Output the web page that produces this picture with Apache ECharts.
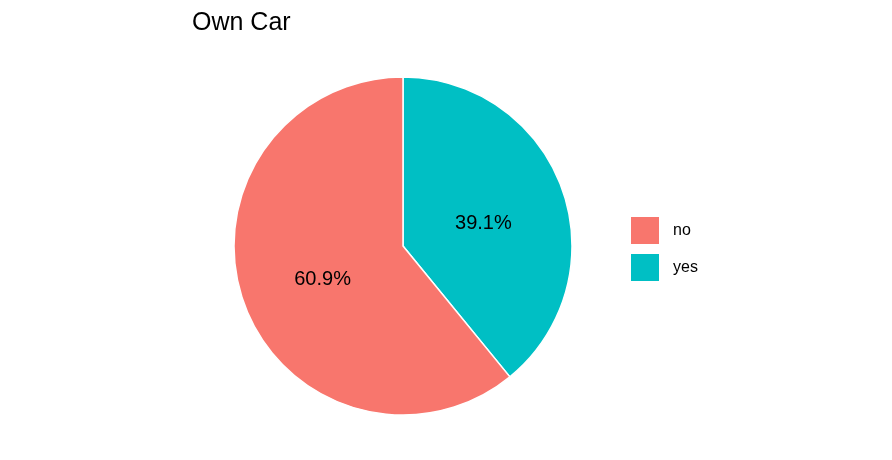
<!DOCTYPE html>
<html>
<head>
<meta charset="utf-8">
<script src="https://cdn.jsdelivr.net/npm/echarts@6/dist/echarts.min.js"></script>
<style>
  html, body { margin: 0; padding: 0; background: #fff; }
  #main { width: 892px; height: 460px; }
</style>
</head>
<body>
<div id="main"></div>
<script>
// 数据
var categories = ['yes', 'no'];
var percents = [39.1, 60.9];
var colors = ['#00BFC4', '#F8766D'];
var legendOrder = ['no', 'yes'];

var chart = echarts.init(document.getElementById('main'));

var pieData = categories.map(function (c, i) {
  return { name: c, value: percents[i], itemStyle: { color: colors[i] } };
});

var option = {
  animation: false,
  backgroundColor: '#fff',
  title: {
    text: 'Own Car',
    left: 187,
    top: 6,
    textStyle: { fontFamily: 'Liberation Sans', fontSize: 25, fontWeight: 'normal', color: '#000' }
  },
  legend: {
    orient: 'vertical',
    left: 629,
    top: 215,
    padding: 0,
    itemWidth: 30,
    itemHeight: 29,
    itemGap: 6,
    icon: 'rect',
    data: legendOrder,
    textStyle: { fontFamily: 'Liberation Sans', fontSize: 16, color: '#000', padding: [0, 0, 0, 8] }
  },
  series: [{
    type: 'pie',
    center: [403, 246],
    radius: 169,
    startAngle: 90,
    clockwise: true,
    data: pieData,
    itemStyle: { borderColor: '#fff', borderWidth: 1.5 },
    label: {
      position: 'inside',
      formatter: function (p) { return p.value.toFixed(1) + '%'; },
      fontFamily: 'Liberation Sans',
      fontSize: 20,
      color: '#000'
    },
    // 标签微调，接近原图位置
    labelLayout: function (params) {
      return params.dataIndex === 0 ? { dx: -2, dy: 7 } : { dx: 2, dy: 4 };
    },
    labelLine: { show: false },
    emphasis: { disabled: true }
  }]
};

chart.setOption(option);
</script>
</body>
</html>
